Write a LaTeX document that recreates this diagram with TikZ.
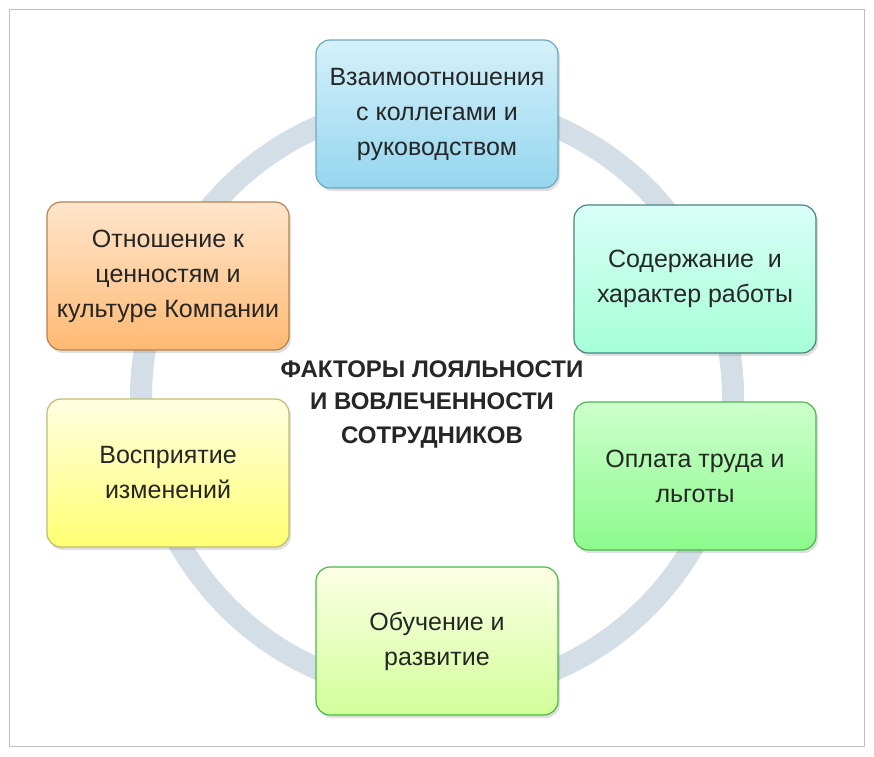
\documentclass[tikz,border=0pt]{standalone}
\usepackage{fontspec}
\setmainfont{Liberation Sans}
\usetikzlibrary{shadows}
\definecolor{ringc}{HTML}{D3DEE6}
\definecolor{tA}{HTML}{D4F1FA}\definecolor{tB}{HTML}{95D6EE}
\tikzset{
  fbox/.style={draw=#1!60!black!70, line width=1.2pt, rounded corners=14pt, minimum width=242pt, minimum height=148pt,
    align=center, font=\fontsize{25}{35}\selectfont, text=black!85, drop shadow={shadow xshift=2pt, shadow yshift=-3pt, opacity=0.25}},
}
\begin{document}
\begin{tikzpicture}[x=1pt,y=-1pt]
\useasboundingbox (0,0) rectangle (874,756);
\fill[white] (0,0) rectangle (874,756);
\draw[black!25, line width=1pt] (9,9) rectangle (864,746);
\coordinate (c) at (437,398);
\draw[ringc, line width=22pt] (c) circle (296);
\node[fbox=cyan, top color=tA, bottom color=tB] (t) at (437,114) {Взаимоотношения\\с коллегами и\\руководством};
\node[fbox=teal, top color=green!20!cyan!15!white, bottom color=green!45!cyan!35!white] (ru) at (695,279) {Содержание~ и\\характер работы};
\node[fbox=green, top color=green!20!white, bottom color=green!55!black!10!green!45!white] (rl) at (695,476) {Оплата труда и\\льготы};
\node[fbox=green, top color=green!8!yellow!10!white, bottom color=green!45!yellow!40!white] (b) at (437,641) {Обучение и\\развитие};
\node[fbox=yellow, top color=yellow!12!white, bottom color=yellow!55!white] (ll) at (168,473) {Восприятие\\изменений};
\node[fbox=orange, top color=orange!20!white, bottom color=orange!55!white] (lu) at (168,276) {Отношение к\\ценностям и\\культуре Компании};
\node[align=center, font=\bfseries\fontsize{24}{33}\selectfont, text=black!85] (m) at (432,404) {ФАКТОРЫ ЛОЯЛЬНОСТИ\\И ВОВЛЕЧЕННОСТИ\\СОТРУДНИКОВ};
\end{tikzpicture}
\end{document}
